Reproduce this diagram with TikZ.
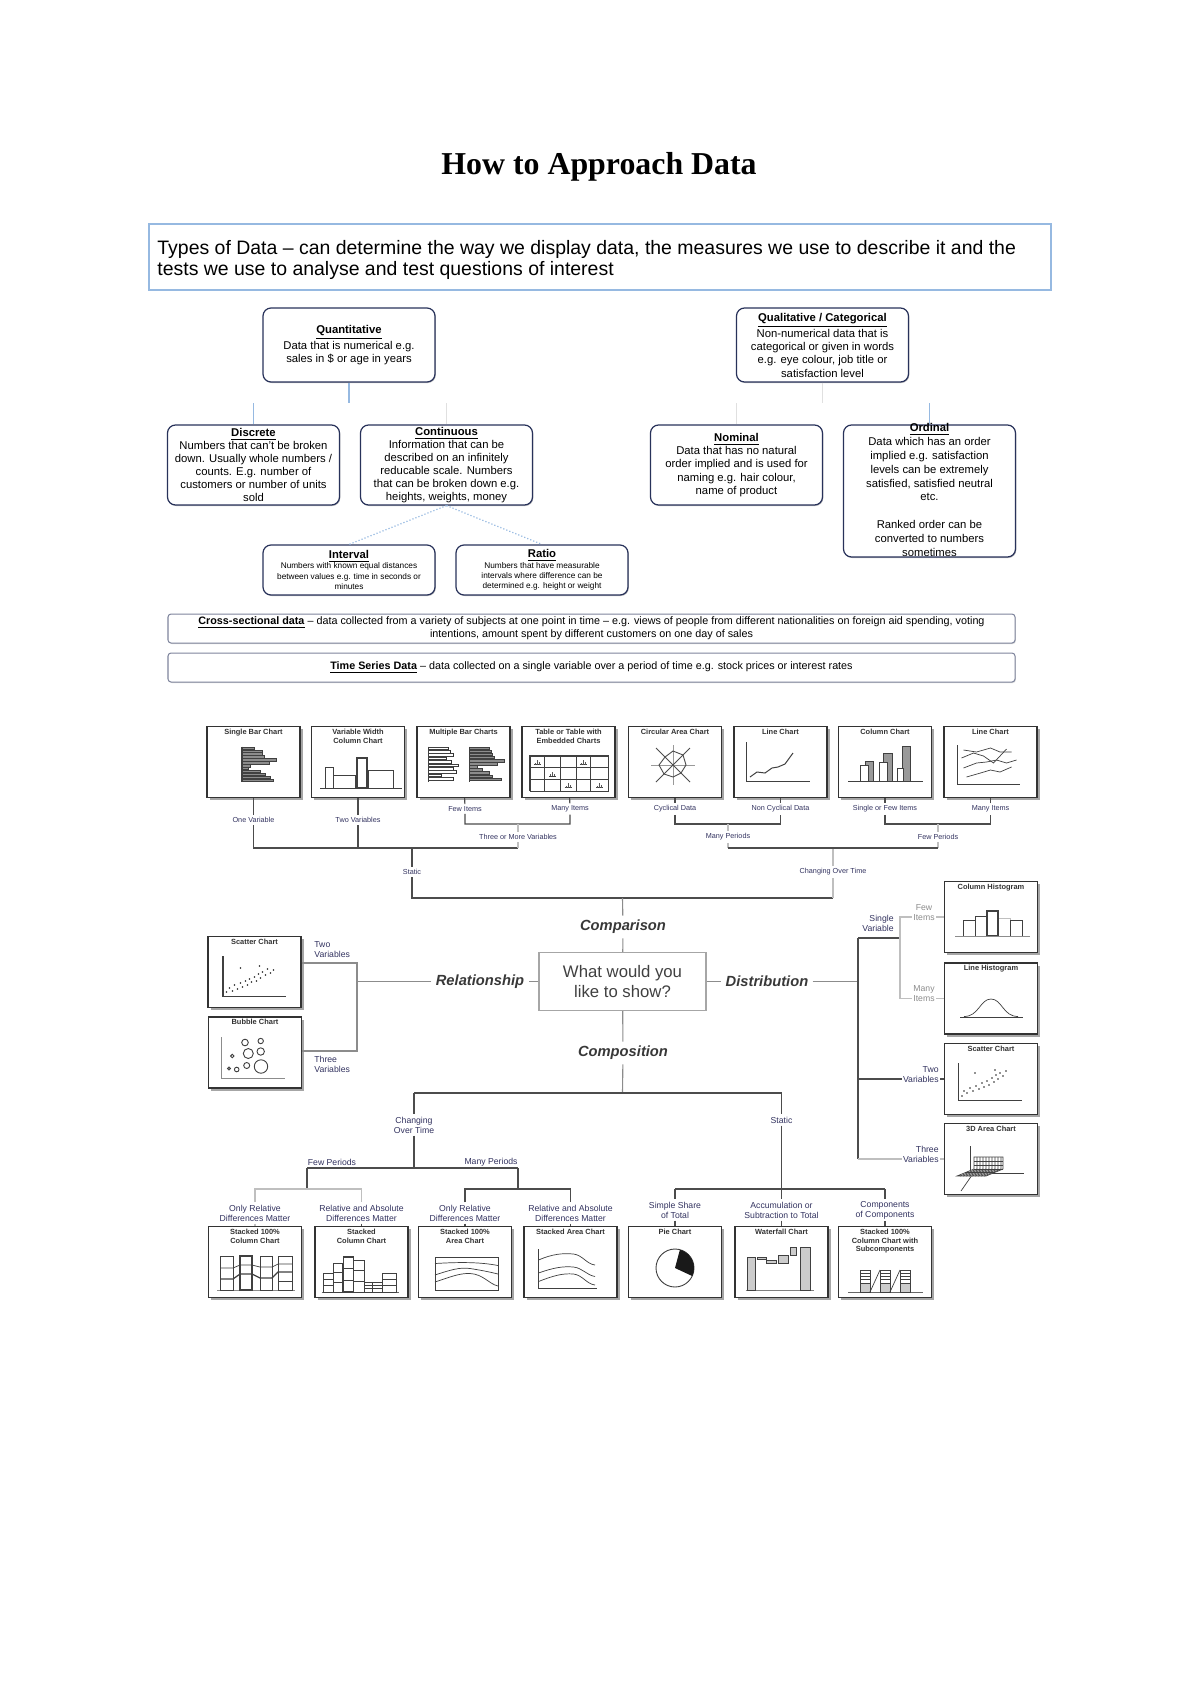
\documentclass[tikz,border=0pt]{standalone}
\usepackage{fontspec}
\setmainfont{Liberation Sans}
\newfontfamily\headfont{Liberation Serif}
\usetikzlibrary{positioning,calc,shadows}

\newlength\pxu
\setlength\pxu{0.49607pt}

\definecolor{navy}{RGB}{40,50,90}
\definecolor{paleblue}{RGB}{150,185,225}
\definecolor{labink}{RGB}{50,50,95}

\tikzset{
  datatype/.style={draw=navy, line width=0.6pt, rounded corners=8\pxu, minimum width=172\pxu,
    align=center, inner sep=0pt, fill=white, font=\fontsize{5.6}{6.5}\selectfont,
    drop shadow={shadow xshift=0.4pt, shadow yshift=-0.5pt, fill=black!25, opacity=1}},
  subtype/.style={datatype, minimum height=50\pxu, font=\fontsize{4.1}{5.2}\selectfont},
  strip/.style={draw=navy!60, line width=0.5pt, rounded corners=3\pxu, minimum width=847\pxu,
    minimum height=29\pxu, align=center, inner sep=0pt, fill=white, font=\fontsize{5.35}{6.6}\selectfont,
    drop shadow={shadow xshift=0.4pt, shadow yshift=-0.5pt, fill=black!15, opacity=1}},
  stub/.style={draw=paleblue, line width=0.6pt},
  faintstub/.style={draw=black!12, line width=0.5pt},
  dotline/.style={draw=paleblue, densely dotted, line width=0.6pt},
  chartbox/.style={draw=black!80, fill=white, line width=0.6pt, minimum width=93\pxu,
    minimum height=71\pxu, inner sep=0pt,
    drop shadow={shadow xshift=1.3pt, shadow yshift=-1.3pt, fill=black!35, opacity=1}},
  ctitle/.style={font=\fontsize{3.7}{4.4}\selectfont\bfseries, text=black!80, align=center, inner sep=0pt},
  choice/.style={font=\fontsize{3.6}{4.6}\selectfont, text=labink, align=center, inner sep=1pt},
  choicebig/.style={font=\fontsize{4.3}{5}\selectfont, text=labink, align=center, inner sep=1pt},
  purpose/.style={font=\fontsize{7.3}{9}\selectfont\bfseries\itshape, text=black!78, inner sep=2pt},
  tree/.style={draw=black!70, line width=0.55pt},
  treemid/.style={draw=black!45, line width=0.55pt},
  treefaint/.style={draw=black!25, line width=0.55pt},
  ink/.style={draw=black!75, line width=0.35pt},
}

% chart box with its title: name, x, y, title
\newcommand\chartbox[4]{%
  \node[chartbox] (#1) at (#2,#3) {};
  \node[ctitle, below=2.5\pxu of #1.north] (#1-t) {#4};
}

\begin{document}
\begin{tikzpicture}[x=0.49607pt, y=-0.49607pt]
\useasboundingbox (0,0) rectangle (1200,1698);

% heading
\node[font={\headfont\bfseries\fontsize{15.8}{18}\selectfont}] (title) at (599,167) {How to Approach Data};
\node[draw=paleblue, line width=0.7pt, minimum width=902\pxu, minimum height=66\pxu, inner sep=0pt] (typesbox) at (600,257) {};
\node[anchor=west, align=left, inner sep=0pt, font=\fontsize{9.65}{10.6}\selectfont] (typestext) at (157,260)
  {Types of Data -- can determine the way we display data, the measures we use to describe it and the\\
   tests we use to analyse and test questions of interest};

% types of data
\node[datatype, minimum height=74\pxu] (quant) at (349,345)
  {\underline{\textbf{Quantitative}}\\Data that is numerical e.g.\\sales in \$ or age in years};
\node[datatype, minimum height=74\pxu] (qual) at (822.5,345)
  {\underline{\textbf{Qualitative / Categorical}}\\Non-numerical data that is\\categorical or given in words\\e.g. eye colour, job title or\\satisfaction level};
\node[datatype, minimum height=80\pxu] (disc) at (253.5,465)
  {\underline{\textbf{Discrete}}\\Numbers that can't be broken\\down. Usually whole numbers /\\counts. E.g. number of\\customers or number of units\\sold};
\node[datatype, minimum height=80\pxu] (cont) at (446.5,465)
  {\underline{\textbf{Continuous}}\\Information that can be\\described on an infinitely\\reducable scale. Numbers\\that can be broken down e.g.\\heights, weights, money};
\node[datatype, minimum height=80\pxu] (nom) at (736.5,465)
  {\underline{\textbf{Nominal}}\\Data that has no natural\\order implied and is used for\\naming e.g. hair colour,\\name of product};
\node[datatype, minimum height=132\pxu] (ord) at (929.5,491) {};
\node[align=center, inner sep=0pt, font=\fontsize{5.6}{6.9}\selectfont] (ordtext) at (929.5,490)
  {\underline{\textbf{Ordinal}}\\Data which has an order\\implied e.g. satisfaction\\levels can be extremely\\satisfied, satisfied neutral\\etc.\\[6.9pt]Ranked order can be\\converted to numbers\\sometimes};
\node[subtype] (intv) at (349,570)
  {{\fontsize{5.6}{6.5}\selectfont\underline{\textbf{Interval}}}\\Numbers with known equal distances\\between values e.g. time in seconds or\\minutes};
\node[subtype] (ratio) at (542,570)
  {{\fontsize{5.6}{6.5}\selectfont\underline{\textbf{Ratio}}}\\Numbers that have measurable\\intervals where difference can be\\determined e.g. height or weight};
\node[strip] (cross) at (591.5,628.5)
  {\underline{\textbf{Cross-sectional data}} -- data collected from a variety of subjects at one point in time -- e.g. views of people from different nationalities on foreign aid spending, voting\\
   intentions, amount spent by different customers on one day of sales};
\node[strip] (tseries) at (591.5,667.5)
  {\underline{\textbf{Time Series Data}} -- data collected on a single variable over a period of time e.g. stock prices or interest rates};

\coordinate (quant-j) at (349,403);
\coordinate (disc-j) at (253.5,403);
\coordinate (cont-j) at (446.5,403);
\coordinate (qual-j) at (822.5,403);
\coordinate (nom-j) at (736.5,403);
\coordinate (ord-j) at (929.5,403);
\draw[stub] (quant) -- (quant-j);
\draw[stub] (disc-j) -- (disc);
\draw[faintstub] (cont-j) -- (cont);
\draw[faintstub] (qual) -- (qual-j);
\draw[faintstub] (nom-j) -- (nom);
\draw[stub] (ord-j) -- (ord);
\draw[dotline] (cont.south) -- (intv.north);
\draw[dotline] (cont.south) -- (ratio.north);

% chart chooser: comparison row
\chartbox{sbar}{253.5}{762}{Single Bar Chart}
\chartbox{vwidth}{358}{762}{Variable Width\\Column Chart}
\chartbox{mbar}{463.5}{762}{Multiple Bar Charts}
\chartbox{tablech}{568.5}{762}{Table or Table with\\Embedded Charts}
\chartbox{circ}{675}{762}{Circular Area Chart}
\chartbox{line1}{780.5}{762}{Line Chart}
\chartbox{colch}{885}{762}{Column Chart}
\chartbox{line2}{990.5}{762}{Line Chart}

\begin{scope}[shift={(sbar.center)}]
  \foreach \l [count=\i] in {12,20,20,22,34,27,8,6,18,23,28,31}
    \draw[ink, fill=black!45] (-11.5,{-15+(\i-1)*2.9}) rectangle ++(\l,2.5);
  \draw[ink, line width=0.6pt] (-11.5,-15.5) -- (-11.5,20);
\end{scope}
\begin{scope}[shift={(vwidth.center)}]
  \draw[ink] (-33,26) rectangle (-25,5) (-25,26) rectangle (-3,13) (10,26) rectangle (35,8);
  \draw[ink, line width=0.6pt] (-1,26) rectangle (9,-4);
  \draw[ink] (-38,26) -- (44,26);
\end{scope}
\begin{scope}[shift={(mbar.center)}]
  \foreach \l [count=\i] in {20,22,25,18,23,30,25,28,13,25} {
    \draw[ink] (-35,{-15+(\i-1)*3.4}) rectangle ++(\l,2.6);
    \fill[black!80] ({-35+\l-0.5},{-15+(\i-1)*3.4-0.4}) rectangle ++(1,3.4);
  }
  \foreach \l [count=\i] in {20,22,23,25,35,28,8,13,20,23,32}
    \draw[ink, fill=black!45] (6,{-15+(\i-1)*3.1}) rectangle ++(\l,2.5);
  \draw[ink, line width=0.5pt] (-35,-15.5) -- (-35,19.5) (6,-15.5) -- (6,19.5);
\end{scope}
\begin{scope}[shift={(tablech.center)}]
  \foreach \x in {-38.5,-24,-8.5,7.5,22,40} \draw[ink] (\x,-6) -- (\x,29);
  \foreach \y in {-6,5.7,17.3,29} \draw[ink] (-38.5,\y) -- (40,\y);
  \draw[ink, line width=0.7pt] (-38.5,29) -- (-38.5,-6) -- (40,-6);
  \foreach \cx/\cy in {-31.25/0, 14.75/0, -16.25/11.5, -0.5/23, 31/23} {
    \draw[ink] ({\cx-3.5},{\cy+2.5}) -- ({\cx+3.5},{\cy+2.5});
    \fill[black!65] ({\cx-2.5},{\cy+2.5}) rectangle ({\cx-1.5},{\cy+0.5});
    \fill[black!65] ({\cx-0.5},{\cy+2.5}) rectangle ({\cx+0.5},{\cy-2});
    \fill[black!65] ({\cx+1.5},{\cy+2.5}) rectangle ({\cx+2.5},{\cy});
  }
\end{scope}
\begin{scope}[shift={($(circ.center)+(-2,3)$)}]
  \draw[black!40, line width=0.3pt] (-22,0) -- (22,0) (0,-20) -- (0,20);
  \draw[black!70, line width=0.45pt] (-17,-17) -- (17,17) (-17,17) -- (17,-17);
  \draw[black!70, line width=0.45pt] (0,-14) -- (10,-10) -- (13,0) -- (8,8) -- (0,12) -- (-9,9) -- (-14,0) -- (-8,-8) -- cycle;
\end{scope}
\begin{scope}[shift={(line1.center)}]
  \draw[ink, line width=0.5pt] (-34.5,-20) -- (-34.5,19) -- (29.5,19);
  \draw[ink, line width=0.5pt] (-30.5,15) -- (-23.5,10) -- (-15.5,11) -- (-8.5,6) -- (-2.5,5) -- (4.5,2) -- (12.5,-9);
\end{scope}
\begin{scope}[shift={(colch.center)}]
  \draw[ink, fill=black!40] (-20,19) rectangle (-12,-1) (-2,19) rectangle (7,-9) (17,19) rectangle (25,-16);
  \draw[ink, fill=white] (-25,19) rectangle (-17,3) (-6,19) rectangle (2,0) (12,19) rectangle (18,6);
  \draw[ink, line width=0.5pt] (-37,19) -- (38,19);
\end{scope}
\begin{scope}[shift={(line2.center)}]
  \draw[ink, line width=0.5pt] (-33.5,-17) -- (-33.5,22) -- (29.5,22);
  \draw[ink] (-27,-12) -- (-14,-10) -- (0,-14) -- (9.5,-10) -- (21,-10);
  \draw[ink] (-29,-4) -- (-17,-9) -- (-7,-6) -- (3,1) -- (16,-13);
  \draw[ink] (-27,6) -- (-14,1) -- (-4,0) -- (6,-2) -- (16,1) -- (26,-2);
  \draw[ink] (-24,15) -- (-10,11) -- (0,8) -- (9.5,10) -- (21,5);
\end{scope}

% comparison labels and connectors
\node[choice] (onevar) at (253.5,820) {One Variable};
\node[choice] (twovar) at (358,820) {Two Variables};
\node[choice] (fewit) at (465,809) {Few Items};
\node[choice] (manyit) at (570,809) {Many Items};
\node[choice] (threevar) at (518,837) {Three or More Variables};
\node[choice] (static1) at (412,872) {Static};
\node[choice] (cyc) at (675,809) {Cyclical Data};
\node[choice] (noncyc) at (780.5,809) {Non Cyclical Data};
\node[choice] (sfew) at (885,809) {Single or Few Items};
\node[choice] (manyit2) at (990.5,809) {Many Items};
\node[choice] (manyper) at (728,837) {Many Periods};
\node[choice] (fewper) at (938,837) {Few Periods};
\node[choice] (changing1) at (833,872) {Changing Over Time};

\coordinate (one-j) at (253.5,848);
\coordinate (two-j) at (358,848);
\coordinate (three-b) at (518,848);
\coordinate (three-a) at (518,824);
\coordinate (few-j) at (465,824);
\coordinate (many-j) at (570,824);
\coordinate (stat1-a) at (412,848);
\coordinate (stat1-b) at (412,898);
\coordinate (chg1-b) at (833,898);
\coordinate (chg1-a) at (833,848);
\coordinate (cyc-j) at (675,824);
\coordinate (noncyc-j) at (780.5,824);
\coordinate (sfew-j) at (885,824);
\coordinate (many2-j) at (990.5,824);
\coordinate (mper-a) at (728,824);
\coordinate (mper-b) at (728,848);
\coordinate (fper-a) at (938,824);
\coordinate (fper-b) at (938,848);

\draw[tree] (sbar) -- (onevar) -- (one-j) -- (three-b);
\draw[tree] (vwidth) -- (twovar) -- (two-j);
\draw[tree] (mbar) -- (fewit) -- (few-j) -- (many-j) -- (manyit) -- (tablech);
\draw[treefaint] (three-a) -- (threevar) -- (three-b);
\draw[tree] (stat1-a) -- (static1) -- (stat1-b) -- (chg1-b);
\draw[treefaint] (chg1-b) -- (changing1) -- (chg1-a);
\draw[tree] (circ) -- (cyc) -- (cyc-j) -- (noncyc-j) -- (noncyc) -- (line1);
\draw[tree] (colch) -- (sfew) -- (sfew-j) -- (many2-j) -- (manyit2) -- (line2);
\draw[treefaint] (mper-a) -- (manyper) -- (mper-b);
\draw[treefaint] (fper-a) -- (fewper) -- (fper-b);
\draw[tree] (mper-b) -- (fper-b);

% centre
\node[draw=black!35, line width=0.6pt, minimum width=167\pxu, minimum height=58\pxu, align=center,
  font=\fontsize{8.3}{9.6}\selectfont, text=black!75] (ask) at (622.5,981.5) {What would you\\like to show?};
\node[purpose] (comp) at (623,927) {Comparison};
\node[purpose] (rel) at (480,981.5) {Relationship};
\node[purpose] (dist) at (767,981.5) {Distribution};
\node[purpose] (compo) at (623,1053) {Composition};

\coordinate (cmp-j) at (622.5,898);
\draw[treemid] (cmp-j) -- (comp) -- (ask);

% relationship
\chartbox{scat1}{254.5}{972}{Scatter Chart}
\chartbox{bubble}{255}{1052.5}{Bubble Chart}
\begin{scope}[shift={(scat1.center)}]
  \draw[ink, line width=0.5pt] (-31.5,-16) -- (-31.5,24) -- (31.5,24);
  \foreach \p in {(-28,20),(-25,16),(-22,19),(-20,13),(-17,17),(-14,11),(-12,15),(-9,9),(-7,13),(-5,7),(-3,10),(0,5),(2,9),(4,2),(6,6),(8,0),(11,3),(13,-3),(16,1),(-14,-4),(5,-6),(19,-2)}
    \fill[black!85] \p circle[radius=0.9];
\end{scope}
\begin{scope}[shift={(bubble.center)}]
  \draw[black!45, line width=0.4pt] (-34,-15.5) -- (-34,25.5) -- (30,25.5);
  \foreach \x/\y/\r in {-10/-10/3.3, 5.7/-11.5/2.7, -6.7/1/5, 5.7/-1/3.7, -22.7/3.5/1.7, -18.3/17/2.3, -8.3/13/3, 6/14/6.7}
    \draw[ink, line width=0.45pt] (\x,\y) circle[radius=\r];
  \draw[ink, fill=black!50] (-26,16) circle[radius=1.7];
\end{scope}
\coordinate (rel-j) at (357,981.5);
\coordinate (rel-a) at (357,963);
\coordinate (rel-b) at (357,1051);
\draw[treemid] (ask) -- (rel) -- (rel-j);
\draw[treemid] (scat1.east |- rel-a) -- (rel-a) -- (rel-b) -- (bubble.east |- rel-b);
\node[choicebig, anchor=west, align=left] (rel2v) at (312,950) {Two\\Variables};
\node[choicebig, anchor=west, align=left] (rel3v) at (312,1064) {Three\\Variables};

% distribution
\chartbox{colhist}{991}{917}{Column Histogram}
\chartbox{linehist}{991}{998.5}{Line Histogram}
\chartbox{scat2}{991}{1079}{Scatter Chart}
\chartbox{area3d}{991}{1159}{3D Area Chart}
\begin{scope}[shift={(colhist.center)}]
  \draw[ink] (-28,19) rectangle (-16,3) (-16,19) rectangle (-4,-1);
  \draw[ink, draw=black!25] (7,19) rectangle (19,1);
  \draw[ink] (19,19) rectangle (31,3);
  \draw[ink, line width=0.7pt] (-4,19) rectangle (7,-6);
  \draw[black!45, line width=0.4pt] (-36,19) -- (39,19);
\end{scope}
\begin{scope}[shift={(linehist.center)}]
  \draw[ink, line width=0.5pt] (-31,18.5) -- (32,18.5);
  \draw[ink] (-27,18) .. controls (-12,18) and (-11,0.5) .. (0,0.5) .. controls (11,0.5) and (12,18) .. (27,18);
\end{scope}
\begin{scope}[shift={(scat2.center)}]
  \draw[ink, line width=0.5pt] (-33,-16) -- (-33,21) -- (31,21);
  \foreach \p in {(-29,17),(-27,12),(-24,14),(-21,9),(-18,12),(-15,7),(-12,10),(-9,4),(-7,8),(-4,2),(-2,6),(1,-1),(3,3),(5,-4),(7,0),(9,-6),(12,-3),(-16,-6),(4,-9),(15,-8)}
    \fill[black!85] \p circle[radius=0.9];
\end{scope}
\begin{scope}[shift={(area3d.center)}]
  \draw[ink] (-21,-13) -- (-21,16);
  \draw[ink] (-21,14) -- (33,14);
  \draw[ink] (-30,32) -- (-12,6);
  \draw[ink, fill=white] (-34,17) -- (-17,10) -- (-17,-2) -- (12,-2) -- (12,10) -- (-5,17) -- cycle;
  \foreach \x in {-14,-11,...,10} \draw[ink] (\x,-2) -- (\x,10) -- ({\x-17},17);
  \draw[ink] (-17,2) -- (12,2) (-17,6) -- (12,6) (-25.5,13.5) -- (3.5,13.5) (-17,10) -- (12,10);
\end{scope}
\coordinate (dis-j) at (858,981.5);
\coordinate (dis-a) at (858,938);
\coordinate (dis-c) at (858,1079);
\coordinate (dis-d) at (858,1159);
\coordinate (sv-j) at (900,938);
\draw[treemid] (ask) -- (dist) -- (dis-j);
\draw[tree] (dis-a) -- (dis-d);
\draw[tree] (dis-a) -- (sv-j);
\draw[treefaint] (sv-j) |- (colhist.west);
\draw[treefaint] (sv-j) |- (linehist.west);
\draw[tree] (dis-c) -- (scat2.west);
\draw[treefaint] (dis-d) -- (area3d.west);
\node[choicebig, anchor=east, align=right] (singv) at (896,923) {Single\\Variable};
\node[choicebig, fill=white, text=black!45, inner sep=0.5pt] (fewit2) at (924,912.5) {Few\\Items};
\node[choicebig, fill=white, text=black!45, inner sep=0.5pt] (manyit3) at (924,994) {Many\\Items};
\node[choicebig, fill=white, anchor=east, align=right, inner sep=0.5pt] (dis2v) at (940,1074.5) {Two\\Variables};
\node[choicebig, fill=white, anchor=east, align=right, inner sep=0.5pt] (dis3v) at (940,1154.5) {Three\\Variables};

% composition
\chartbox{col100}{255}{1262}{Stacked 100\%\\Column Chart}
\chartbox{stackcol}{361.5}{1262}{Stacked\\Column Chart}
\chartbox{area100}{465}{1262}{Stacked 100\%\\Area Chart}
\chartbox{stackarea}{570.5}{1262}{Stacked Area Chart}
\chartbox{pie}{675}{1262}{Pie Chart}
\chartbox{waterfall}{781.5}{1262}{Waterfall Chart}
\chartbox{subcomp}{885}{1262}{Stacked 100\%\\Column Chart with\\Subcomponents}
\begin{scope}[shift={(col100.center)}]
  \draw[black!45, line width=0.4pt] (-38,28) -- (40,28);
  \foreach \a/\b in {-35/-22,5/17,23/37} \draw[ink] (\a,-6) rectangle (\b,28);
  \draw[ink, line width=0.7pt] (-15,-6) rectangle (-3,28);
  \draw[ink] (-35,6) -- (-22,6) -- (-15,3) -- (-3,3) -- (5,5) -- (17,5) -- (23,2) -- (37,2);
  \draw[ink, line width=0.6pt] (-35,17) -- (-22,17) -- (-15,12) -- (-3,12) -- (5,16) -- (17,16) -- (23,10) -- (37,10);
  \draw[ink] (23,19) -- (37,19);
\end{scope}
\begin{scope}[shift={(stackcol.center)}]
  \draw[black!60, line width=0.4pt] (-40,30) -- (37,30);
  \foreach \a/\b/\t in {-38/-28/11, -28/-19/1, -18/-8/-5, -8/3/-2, 3/11/20, 11/21/20, 21/35/11} {
    \draw[ink] (\a,30) rectangle (\b,\t);
    \draw[ink] (\a,{\t+(30-\t)/3}) -- (\b,{\t+(30-\t)/3});
    \draw[ink] (\a,{\t+2*(30-\t)/3}) -- (\b,{\t+2*(30-\t)/3});
  }
  \draw[ink, line width=0.7pt] (-18,30) rectangle (-8,-5);
\end{scope}
\begin{scope}[shift={(area100.center)}]
  \draw[ink, line width=0.5pt] (-30,-5) rectangle (33,28);
  \draw[ink] (-30,1.5) .. controls (-5,0) and (15,0) .. (33,3.5);
  \draw[ink] (-30,13) .. controls (-15,8) and (-5,5) .. (5,6.5) .. controls (15,8) and (25,10) .. (33,12);
  \draw[ink] (-30,20) .. controls (-15,15) and (-5,11) .. (5,11.5) .. controls (18,12) and (24,22) .. (33,24);
\end{scope}
\begin{scope}[shift={(stackarea.center)}]
  \draw[ink, line width=0.5pt] (-32.5,-13) -- (-32.5,26) -- (26.5,26);
  \draw[ink] (-32,-2) .. controls (-18,-8) and (-8,-9) .. (3,-8) .. controls (12,-7) and (16,2) .. (24.5,3);
  \draw[ink] (-32,11) .. controls (-18,6) and (-8,4) .. (3,5) .. controls (12,6) and (16,13) .. (24.5,14.5);
  \draw[ink] (-32,19.5) .. controls (-18,14) and (-8,11) .. (3,12) .. controls (12,13) and (16,22) .. (24.5,23);
\end{scope}
\begin{scope}[shift={(pie.center)}]
  \draw[ink, line width=0.45pt] (0,6) circle[radius=19];
  \fill[black!90] (0,6) -- ++(-75:19) arc[start angle=-75, end angle=25, radius=19] -- cycle;
\end{scope}
\begin{scope}[shift={(waterfall.center)}]
  \draw[black!50, line width=0.4pt] (-36,28) -- (32,28);
  \draw[ink, fill=black!20] (-34.5,28) rectangle (-26.5,-5);
  \draw[ink, fill=black!20] (-24,-5) rectangle (-15,-2.5);
  \draw[ink, fill=black!20] (-15,-2) rectangle (-5,1.3);
  \draw[ink, fill=black!20] (-3,-7) rectangle (7,1.3);
  \draw[ink, fill=black!20] (8.5,-15) rectangle (15,-7);
  \draw[ink, fill=black!20] (18.5,28) rectangle (28.5,-15);
\end{scope}
\begin{scope}[shift={(subcomp.center)}]
  \draw[black!60, line width=0.4pt] (-37,30) -- (38,30);
  \foreach \a in {-25,-5,15} {
    \draw[ink, fill=black!20] (\a,30) rectangle ++(10,-9);
    \draw[ink] (\a,21) rectangle ++(10,-13);
    \draw[ink] (\a,11) -- ++(10,0) (\a,14) -- ++(10,0) (\a,17) -- ++(10,0);
  }
  \draw[ink] (-15,30) -- (-5,8) (5,30) -- (15,8);
\end{scope}

\coordinate (cps-j) at (622.5,1093);
\coordinate (cot-j) at (414,1093);
\coordinate (stat2-j) at (781.5,1093);
\draw[treemid] (ask) -- (compo) -- (cps-j);
\draw[tree] (cot-j) -- (stat2-j);

\node[choicebig] (changing2) at (414,1125) {Changing\\Over Time};
\node[choicebig] (fewper2) at (332,1162) {Few Periods};
\node[choicebig] (manyper2) at (491,1162) {Many Periods};
\node[choicebig] (onlyrel1) at (255,1213) {Only Relative\\Differences Matter};
\node[choicebig] (relabs1) at (361.5,1213) {Relative and Absolute\\Differences Matter};
\node[choicebig] (onlyrel2) at (465,1213) {Only Relative\\Differences Matter};
\node[choicebig] (relabs2) at (570.5,1213) {Relative and Absolute\\Differences Matter};
\node[choicebig] (static2) at (781.5,1120) {Static};
\node[choicebig] (share) at (675,1210) {Simple Share\\of Total};
\node[choicebig] (accum) at (781.5,1210) {Accumulation or\\Subtraction to Total};
\node[choicebig] (compcomp) at (885,1210) {Components\\of Components};

\coordinate (cot-b) at (414,1168);
\coordinate (fp-a) at (307,1168);
\coordinate (mp-a) at (518,1168);
\coordinate (fp-b) at (307,1189);
\coordinate (mp-b) at (518,1189);
\coordinate (lf1) at (255,1189);
\coordinate (lf2) at (361.5,1189);
\coordinate (lf3) at (465,1189);
\coordinate (lf4) at (570.5,1189);
\coordinate (stat2-b) at (781.5,1189);
\coordinate (pie-j) at (675,1189);
\coordinate (sub-j) at (885,1189);

\draw[tree] (cot-j) -- (changing2) -- (cot-b);
\draw[tree] (fp-a) -- (mp-a);
\draw[tree] (fp-a) -- (fp-b);
\draw[tree] (mp-a) -- (mp-b);
\draw[treefaint] (onlyrel1) -- (lf1) -- (lf2) -- (relabs1);
\draw[tree] (onlyrel2) -- (lf3) -- (lf4) -- (relabs2);
\draw[treefaint] (onlyrel1) -- (col100);
\draw[tree] (relabs1) -- (stackcol);
\draw[tree] (onlyrel2) -- (area100);
\draw[tree] (relabs2) -- (stackarea);
\draw[tree] (stat2-j) -- (static2) -- (stat2-b);
\draw[tree] (pie-j) -- (sub-j);
\draw[tree] (pie-j) -- (share) -- (pie);
\draw[tree] (stat2-b) -- (accum) -- (waterfall);
\draw[tree] (sub-j) -- (compcomp) -- (subcomp);
\end{tikzpicture}
\end{document}
